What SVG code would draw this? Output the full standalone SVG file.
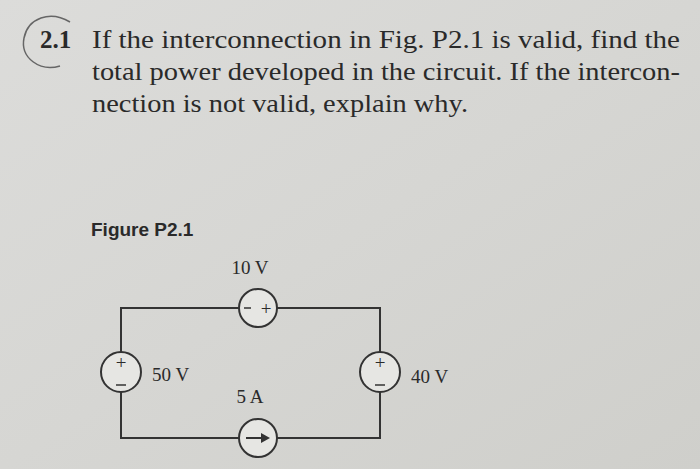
<svg xmlns="http://www.w3.org/2000/svg" width="700" height="469" viewBox="0 0 700 469">
<defs>
<linearGradient id="bg" x1="0" y1="0" x2="1" y2="1">
<stop offset="0" stop-color="#dcdcda"/><stop offset="0.5" stop-color="#d6d6d3"/><stop offset="1" stop-color="#cfcfcb"/>
</linearGradient>
<style>
.t{font-family:"Liberation Serif",serif;font-size:25px;fill:#2a2a2a}
.l{font-family:"Liberation Serif",serif;font-size:19px;fill:#2a2a2a}
.w{fill:none;stroke:#333;stroke-width:2}
.s{fill:#e6e6e3;stroke:#333;stroke-width:2}
</style>
</defs>
<rect width="700" height="469" fill="url(#bg)"/>
<path d="M70 22 C50 10 28 18 24 38 C20 58 40 72 60 66" fill="none" stroke="#666" stroke-width="1.5"/>
<text class="t" x="40" y="48" font-weight="bold">2.1</text>
<text class="t" x="92" y="48" textLength="588" lengthAdjust="spacingAndGlyphs">If the interconnection in Fig. P2.1 is valid, find the</text>
<text class="t" x="92" y="80" textLength="588" lengthAdjust="spacingAndGlyphs">total power developed in the circuit. If the intercon-</text>
<text class="t" x="92" y="112" textLength="376" lengthAdjust="spacingAndGlyphs">nection is not valid, explain why.</text>
<text x="91" y="236" font-family="Liberation Sans,sans-serif" font-weight="bold" font-size="19" fill="#2a2a2a">Figure P2.1</text>
<g id="wires"><path class="w" d="M121 352 V308 H240 M276 308 H380 V352 M380 392 V438 H276 M240 438 H121 V392"/></g>
<g id="v50"><circle class="s" cx="121" cy="372" r="20"/><text class="l" x="121" y="369" text-anchor="middle">+</text><line x1="116" y1="385" x2="126" y2="385" stroke="#333" stroke-width="1.5"/><text class="l" x="152" y="381">50 V</text></g>
<g id="v40"><circle class="s" cx="380" cy="372" r="20"/><text class="l" x="380" y="369" text-anchor="middle">+</text><line x1="375" y1="385" x2="385" y2="385" stroke="#333" stroke-width="1.5"/><text class="l" x="411" y="383">40 V</text></g>
<g id="v10"><circle class="s" cx="258" cy="308" r="19"/><line x1="244" y1="308" x2="251" y2="308" stroke="#333" stroke-width="1.5"/><text class="l" x="266" y="315" text-anchor="middle">+</text><text class="l" x="250" y="274" text-anchor="middle">10 V</text></g>
<g id="i5"><circle class="s" cx="258" cy="438" r="19"/><line x1="246" y1="438" x2="264" y2="438" stroke="#333" stroke-width="2"/><path d="M270 438 L261 433 L261 443 Z" fill="#333"/><text class="l" x="250" y="403" text-anchor="middle">5 A</text></g>
</svg>
